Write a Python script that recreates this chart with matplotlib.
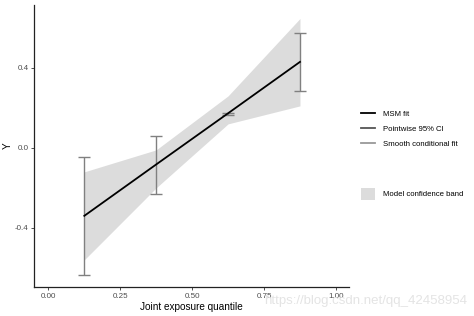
import numpy as np
import matplotlib.pyplot as plt
from matplotlib.lines import Line2D
from matplotlib.patches import Patch

plt.rcParams['font.family'] = ['Liberation Sans', 'DejaVu Sans']

# quantile positions of the joint exposure
quantiles = [0.125, 0.375, 0.625, 0.875]
# MSM fit (straight line through the end points)
msm_fit = [-0.34, -0.083, 0.173, 0.43]
# pointwise 95% CI
ci_low = [-0.638, -0.23, 0.165, 0.283]
ci_high = [-0.048, 0.06, 0.175, 0.575]
# model confidence band
band_low = [-0.56, -0.20, 0.12, 0.21]
band_high = [-0.12, -0.01, 0.26, 0.647]

x_ticks = [0.0, 0.25, 0.5, 0.75, 1.0]
x_ticklabels = ['0.00', '0.25', '0.50', '0.75', '1.00']
y_ticks = [-0.4, 0.0, 0.4]
y_ticklabels = ['-0.4', '0.0', '0.4']

fig = plt.figure(figsize=(4.74, 3.16), dpi=100)
ax = fig.add_axes([0.0717, 0.0918, 0.6643, 0.892])

ax.fill_between(quantiles, band_low, band_high, color='#dcdcdc', lw=0, zorder=1)
ax.plot(quantiles, msm_fit, color='black', lw=1.3, zorder=3)

q = np.array(quantiles)
mid = (np.array(ci_low) + np.array(ci_high)) / 2
err = (np.array(ci_high) - np.array(ci_low)) / 2
ax.errorbar(q, mid, yerr=err, fmt='none', ecolor='#808080', elinewidth=1.0,
            capsize=4, capthick=1.0, zorder=2)

ax.set_xlim(-0.05, 1.045)
ax.set_ylim(-0.696, 0.714)
ax.set_xticks(x_ticks)
ax.set_xticklabels(x_ticklabels)
ax.set_yticks(y_ticks)
ax.set_yticklabels(y_ticklabels)
ax.tick_params(labelsize=5.8, labelcolor='#4d4d4d', color='#333333', length=2, width=0.6, pad=2)
for side in ['top', 'right']:
    ax.spines[side].set_visible(False)
for side in ['left', 'bottom']:
    ax.spines[side].set_linewidth(0.9)
    ax.spines[side].set_color('#222222')

ax.set_xlabel('Joint exposure quantile', fontsize=7.2, labelpad=2)
ax.set_ylabel('Y', fontsize=7.2)
ax.yaxis.set_label_coords(-0.066, 0.5)

handles1 = [Line2D([], [], color='black', lw=1.3),
            Line2D([], [], color='#555555', lw=1.3),
            Line2D([], [], color='#999999', lw=1.3)]
labels1 = ['MSM fit', 'Pointwise 95% CI', 'Smooth conditional fit']
fig.legend(handles1, labels1, loc='upper left', bbox_to_anchor=(0.755, 0.66),
           frameon=False, fontsize=5.6, handlelength=1.8, labelspacing=0.95,
           handletextpad=1.0, borderaxespad=0)

fig.legend([Patch(facecolor='#dcdcdc', edgecolor='none')], ['Model confidence band'],
           loc='upper left', bbox_to_anchor=(0.755, 0.415), frameon=False,
           fontsize=5.6, handlelength=1.8, handleheight=2.0, handletextpad=1.0,
           borderaxespad=0)

fig.text(0.985, 0.048, 'https://blog.csdn.net/qq_42458954', ha='right', va='center',
         fontsize=9.5, color='#e4e4e4')

fig.savefig('out.png', dpi=100)
